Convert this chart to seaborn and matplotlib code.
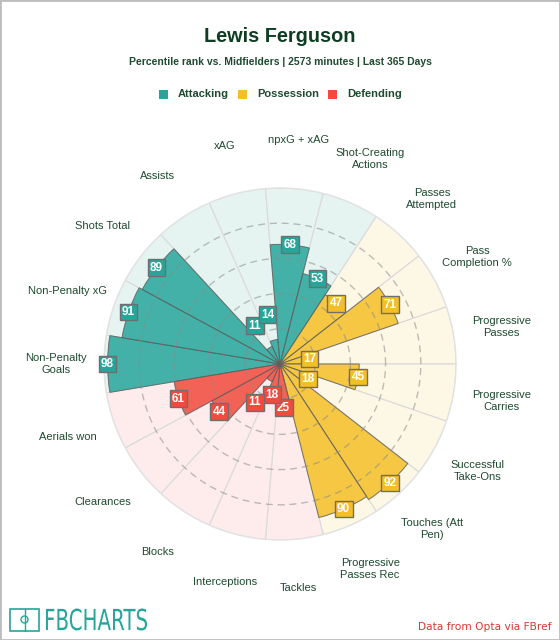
import numpy as np
import pandas as pd
import matplotlib
matplotlib.use("Agg")
import matplotlib.pyplot as plt
import seaborn as sns
from matplotlib.patches import Rectangle, Circle, PathPatch
from matplotlib.textpath import TextPath
from matplotlib.font_manager import FontProperties
from matplotlib.transforms import Affine2D

# data (percentile ranks)
attacking_stats = ["Non-Penalty\nGoals", "Non-Penalty xG", "Shots Total", "Assists",
                   "xAG", "npxG + xAG", "Shot-Creating\nActions"]
attacking_pct = [98, 91, 89, 11, 14, 68, 53]

possession_stats = ["Passes\nAttempted", "Pass\nCompletion %", "Progressive\nPasses",
                    "Progressive\nCarries", "Successful\nTake-Ons", "Touches (Att\nPen)",
                    "Progressive\nPasses Rec"]
possession_pct = [47, 71, 17, 45, 18, 92, 90]

defending_stats = ["Tackles", "Interceptions", "Blocks", "Clearances", "Aerials won"]
defending_pct = [25, 18, 11, 44, 61]

groups = ["Attacking", "Possession", "Defending"]

player = "Lewis Ferguson"
subtitle = "Percentile rank vs. Midfielders | 2573 minutes | Last 365 Days"
credit = "Data from Opta via FBref"


def main():
    df = pd.DataFrame({
        "stat": attacking_stats + possession_stats + defending_stats,
        "pct": attacking_pct + possession_pct + defending_pct,
        "group": ["Attacking"] * len(attacking_stats) + ["Possession"] * len(possession_stats)
                 + ["Defending"] * len(defending_stats),
    })

    sns.set_theme(style="white")
    plt.rcParams["font.family"] = ["Liberation Sans", "DejaVu Sans"]

    col = dict(zip(groups, ["#26a69a", "#f4bf26", "#f24a3c"]))
    light = dict(zip(groups, ["#e6f4f1", "#fdf7e6", "#fdeceb"]))
    txt_dark = "#0f3d22"
    txt_lab = "#1e4a30"

    W, H = 560, 640
    fig = plt.figure(figsize=(W / 100, H / 100), dpi=100)
    fig.patch.set_facecolor("white")

    # polar axes: centre (280, 364) px, radius 176 px
    cx, cy, R = 280, 364, 176
    ax = fig.add_axes([(cx - R) / W, 1 - (cy + R) / H, 2 * R / W, 2 * R / H], projection="polar")
    ax.set_facecolor("white")

    n = len(df)
    width = 2 * np.pi / n
    theta = np.pi - np.arange(n) * width
    df["theta"] = theta

    # background slices
    ax.bar(df["theta"], 100, width=width, color=[light[g] for g in df["group"]],
           edgecolor="#dadada", linewidth=0.8, zorder=1)
    # value bars
    ax.bar(df["theta"], df["pct"], width=width, color=[col[g] for g in df["group"]],
           alpha=0.85, edgecolor="#5f5f5f", linewidth=0.7, zorder=2)

    # dashed rings
    tt = np.linspace(0, 2 * np.pi, 500)
    for r in [20, 40, 60, 80]:
        ax.plot(tt, np.full_like(tt, r), color="#8a8a8a", alpha=0.55, lw=1.0,
                ls=(0, (5, 3.5)), zorder=3)

    ax.set_ylim(0, 100)
    ax.set_xticks([])
    ax.set_yticks([])
    ax.grid(False)
    ax.spines["polar"].set_color("#e2e2e2")
    ax.spines["polar"].set_linewidth(1.0)

    # value boxes
    for _, row in df.iterrows():
        r = row["pct"] + 15 if row["pct"] < 15 else row["pct"]
        ax.text(row["theta"], r, str(row["pct"]), ha="center", va="center", color="white",
                fontsize=8.5, fontweight="bold", zorder=6,
                bbox=dict(boxstyle="square,pad=0.2", fc=col[row["group"]], ec="#6e6e6e", lw=1.0))

    # stat labels
    for _, row in df.iterrows():
        ax.text(row["theta"], 127.5, row["stat"], ha="center", va="center", color=txt_lab,
                fontsize=8, linespacing=1.25, zorder=6)

    # title, subtitle
    fig.text(0.5, 1 - 36 / H, player, ha="center", va="center", fontsize=14.3,
             fontweight="bold", color=txt_dark)
    fig.text(0.5, 1 - 62 / H, subtitle, ha="center", va="center", fontsize=7.5,
             fontweight="bold", color="#1e4a30")

    # legend
    sq_x = [159, 238, 328]
    tx_x = [178, 257, 347]
    for g, sx, tx in zip(groups, sq_x, tx_x):
        fig.patches.append(Rectangle((sx / W, 1 - 98.5 / H), 9 / W, 9 / H, transform=fig.transFigure,
                                     fc=col[g], ec="none"))
        fig.text(tx / W, 1 - 94 / H, g, ha="left", va="center", fontsize=8,
                 fontweight="bold", color="#1e4a30")

    # footer logo
    pix = Affine2D().scale(1 / W, 1 / H) + fig.transFigure
    logo = "#26a69a"
    fig.patches.append(Rectangle((10, 9.5), 29, 22, transform=pix, fc="none", ec=logo, lw=1.2))
    fig.lines.append(plt.Line2D([24.5, 24.5], [9.5, 31.5], transform=pix, color=logo, lw=1.0))
    fig.patches.append(Circle((24.5, 20.5), 3.5, transform=pix, fc="none", ec=logo, lw=1.0))
    tp = TextPath((0, 0), "FBCHARTS", size=32, prop=FontProperties(family="DejaVu Sans"))
    ext = tp.get_extents()
    sx = (147 - 46) / ext.width
    sy = (31.5 - 9.5) / ext.height
    tp = tp.transformed(Affine2D().translate(-ext.x0, -ext.y0).scale(sx, sy).translate(46, 9.5))
    fig.patches.append(PathPatch(tp, transform=pix, fc=logo, ec="none"))

    fig.text(552 / W, 1 - 627 / H, credit, ha="right", va="center", fontsize=7.7,
             color="#d63a32", family="DejaVu Sans")

    # outer frame
    fig.patches.append(Rectangle((0, 0), 1, 1, transform=fig.transFigure, fc="none",
                                 ec="#bdbdbd", lw=2.0))

    plt.savefig("out.png", dpi=100, facecolor="white")
    plt.close()


if __name__ == "__main__":
    main()
